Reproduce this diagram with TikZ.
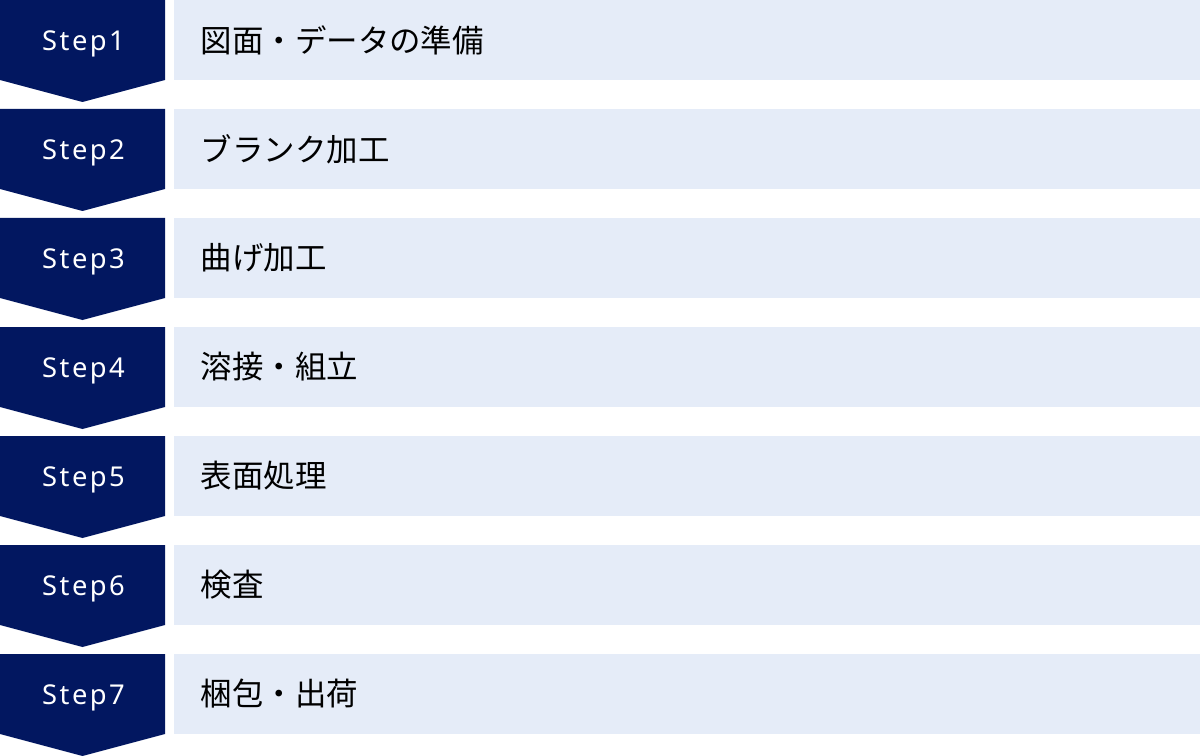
\documentclass[tikz,border=0pt]{standalone}
\usepackage{fontspec}
\setmainfont{Noto Sans}
\newfontfamily\cjk{Noto Sans CJK JP}
\definecolor{navy}{HTML}{021760}
\definecolor{pale}{HTML}{E5ECF8}
\begin{document}
\begin{tikzpicture}[x=0.75pt,y=-0.75pt,
  stepmark/.style={fill=navy,draw=none},
  barbox/.style={fill=pale,draw=none},
  steplabel/.style={text=white,font=\fontsize{20.5}{24}\selectfont\addfontfeatures{LetterSpace=9},anchor=center},
  bartext/.style={text=black,font=\cjk\fontsize{23.6}{28}\selectfont,anchor=west}]
\useasboundingbox (0,0) rectangle (1200,756);
\foreach \i/\t in {1/図面・データの準備,2/ブランク加工,3/曲げ加工,4/溶接・組立,5/表面処理,6/検査,7/梱包・出荷}{
  \pgfmathsetmacro{\yo}{(\i-1)*109}
  \fill[stepmark] (0,\yo) -- (165,\yo) -- (165,\yo+80) -- (82.5,\yo+102) -- (0,\yo+80) -- cycle;
  \fill[barbox] (174,\yo) rectangle (1200,\yo+80);
  \node[steplabel] (s\i) at (83.5,\yo+44) {Step\i};
  \node[bartext] (t\i) at (196,\yo+40) {\t};
}
\end{tikzpicture}
\end{document}
